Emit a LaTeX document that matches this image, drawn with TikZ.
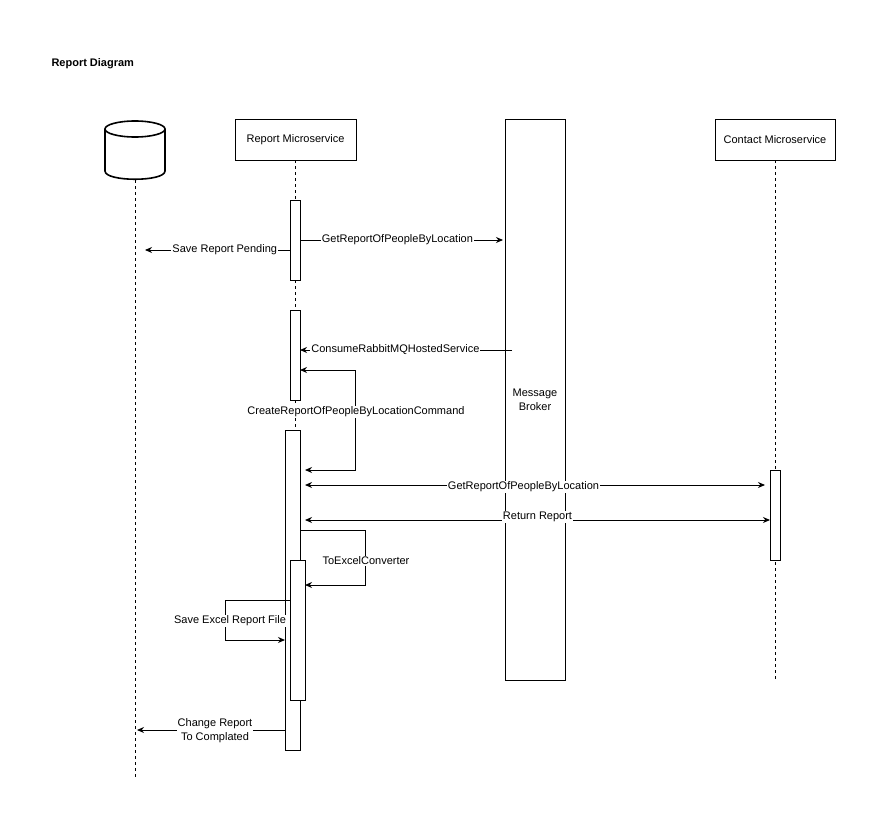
\documentclass[tikz,border=0pt]{standalone}
\usepackage{fontspec}
\setmainfont{Liberation Sans}
\usetikzlibrary{arrows.meta,shapes.geometric}
\begin{document}
\begin{tikzpicture}[x=1pt,y=-1pt,line width=1pt,
  txt/.style={font=\fontsize{11}{14}\selectfont,inner sep=1pt},
  lbl/.style={txt,fill=white},
  box/.style={draw,fill=white},
  life/.style={dash pattern=on 3pt off 3pt,line width=0.8pt},
  msg/.style={-{Stealth[length=7pt,width=6pt]}},
  dmsg/.style={{Stealth[length=7pt,width=6pt]}-{Stealth[length=7pt,width=6pt]}}]
\useasboundingbox (0,0) rectangle (886,832);
\node[txt,font=\fontsize{11}{13}\selectfont\bfseries,anchor=west] (title) at (50,64) {Report Diagram};
% lifelines
\draw[life] (135,180) -- (135,778);
\draw[life] (295,160) -- (295,430);
\draw[life] (775,160) -- (775,680);
% database
\draw[fill=white,line width=1.6pt] (105,129) -- (105,171) .. controls (105,182) and (165,182) .. (165,171) -- (165,129);
\draw[fill=white,line width=1.6pt] (135,129) ellipse[x radius=30,y radius=8];
\node[box,minimum width=121,minimum height=40,txt] (rm) at (295.5,140) {Report Microservice};
\node[box,minimum width=120,minimum height=40,txt] (cm) at (775,140) {Contact Microservice};
\node[box,minimum width=60,minimum height=560,txt,align=center] (mb) at (535,400) {Message\\Broker};
% activations
\node[box,minimum width=10,minimum height=80,inner sep=0] (a1) at (295,240) {};
\node[box,minimum width=10,minimum height=90,inner sep=0] (a2) at (295,355) {};
\node[box,minimum width=15,minimum height=320,inner sep=0] (a3) at (292.5,590) {};
\node[box,minimum width=15,minimum height=140,inner sep=0] (a4) at (297.5,630) {};
\node[box,minimum width=10,minimum height=90,inner sep=0] (a5) at (775,515) {};
% messages
\coordinate (p1) at (503,240);
\draw[msg] (300,240) -- node[lbl,pos=0.48]{GetReportOfPeopleByLocation} (p1);
\coordinate (p2) at (145,250);
\draw[msg] (290,250) -- node[lbl,pos=0.45]{Save Report Pending} (p2);
\coordinate (p3) at (512,350);
\draw[msg] (p3) -- node[lbl,pos=0.55]{ConsumeRabbitMQHostedService} (300,350);
\coordinate (c1) at (355,370); \coordinate (c2) at (355,470);
\draw[dmsg] (300,370) -- (c1) -- (c2) -- (305,470);
\node[lbl] (l1) at (356,412) {CreateReportOfPeopleByLocationCommand};
\draw[dmsg] (305,485) -- node[lbl,pos=0.475,yshift=-2pt]{GetReportOfPeopleByLocation} (765,485);
\draw[dmsg] (305,520) -- node[lbl,pos=0.5,yshift=3pt]{Return Report} (770,520);
\coordinate (e1) at (365,530); \coordinate (e2) at (365,585);
\draw[msg] (300,530) -- (e1) -- (e2) -- (305,585);
\node[lbl] (l2) at (366,561) {ToExcelConverter};
\coordinate (s1) at (225,600); \coordinate (s2) at (225,640);
\draw[msg] (290,600) -- (s1) -- (s2) -- (285,640);
\node[lbl] (l3) at (230,621) {Save Excel Report File};
\coordinate (p4) at (137,730);
\draw[msg] (285,730) -- (p4);
\node[lbl,align=center] (l4) at (215,731) {Change Report\\To Complated};
\end{tikzpicture}
\end{document}
